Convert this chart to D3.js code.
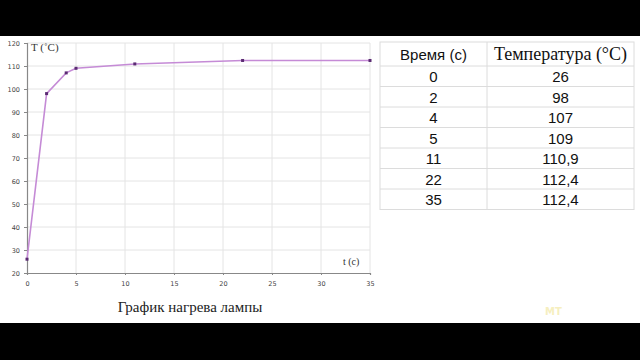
<!DOCTYPE html>
<html>
<head>
<meta charset="utf-8">
<script src="https://cdn.jsdelivr.net/npm/d3@7"></script>
<style>
  body { margin: 0; background: #000; }
  svg { display: block; }
</style>
</head>
<body>
<div id="chart"></div>
<script>
var times = [0, 2, 4, 5, 11, 22, 35]
var temps = [26, 98, 107, 109, 110.9, 112.4, 112.4]
var tempLabels = ["26", "98", "107", "109", "110,9", "112,4", "112,4"]
var xTicks = [0, 5, 10, 15, 20, 25, 30, 35]
var yTicks = [20, 30, 40, 50, 60, 70, 80, 90, 100, 110, 120]
var headers = ["Время (с)", "Температура (°C)"]

var W = 640, H = 360

var svg = d3.select("#chart")
    .append("svg")
      .attr("width", W)
      .attr("height", H)

// black bands top and bottom
svg.append("rect").attr("x", 0).attr("y", 0).attr("width", W).attr("height", H).attr("fill", "#000")
svg.append("rect").attr("x", 0).attr("y", 36).attr("width", W).attr("height", 287).attr("fill", "#fff")

var x = d3.scaleLinear().domain([0, 35]).range([27, 370])
var y = d3.scaleLinear().domain([20, 120]).range([273, 43])

var g = svg.append("g")

// grid
g.selectAll(".vgrid")
    .data(xTicks.slice(1))
    .enter()
    .append("line")
    .attr("x1", function(d) { return x(d) })
    .attr("x2", function(d) { return x(d) })
    .attr("y1", y(120))
    .attr("y2", y(20))
    .attr("stroke", "#e4e4e4")
    .attr("stroke-width", 1)

g.selectAll(".hgrid")
    .data(yTicks.slice(1))
    .enter()
    .append("line")
    .attr("x1", x(0))
    .attr("x2", x(35))
    .attr("y1", function(d) { return y(d) })
    .attr("y2", function(d) { return y(d) })
    .attr("stroke", "#e4e4e4")
    .attr("stroke-width", 1)

// axes
var xAxis = g.append("g")
    .attr("transform", "translate(0," + y(20) + ")")
    .call(d3.axisBottom(x).tickValues(xTicks).tickSize(2).tickPadding(6))
var yAxis = g.append("g")
    .attr("transform", "translate(" + x(0) + ",0)")
    .call(d3.axisLeft(y).tickValues(yTicks).tickSize(3).tickPadding(4))

;[xAxis, yAxis].forEach(function(a) {
    a.select(".domain").attr("stroke", "#888").attr("stroke-width", 1.2)
    a.selectAll(".tick line").attr("stroke", "#888")
    a.selectAll("text")
        .attr("fill", "#444")
        .style("font-family", "'DejaVu Sans', sans-serif")
        .style("font-size", "6.5px")
})

g.append("text")
    .attr("x", 31)
    .attr("y", 51)
    .style("font-family", "'Liberation Serif', serif")
    .style("font-size", "11px")
    .attr("fill", "#333")
    .text("T (˚C)")

g.append("text")
    .attr("x", 343)
    .attr("y", 265)
    .style("font-family", "'Liberation Serif', serif")
    .style("font-size", "10px")
    .attr("fill", "#333")
    .text("t (c)")

// line + markers
var pts = times.map(function(t, i) { return [t, temps[i]] })
var line = d3.line()
    .x(function(d) { return x(d[0]) })
    .y(function(d) { return y(d[1]) })

g.append("path")
    .datum(pts)
    .attr("d", line)
    .attr("fill", "none")
    .attr("stroke", "#c58bd6")
    .attr("stroke-width", 1.6)

g.selectAll(".pt")
    .data(pts)
    .enter()
    .append("rect")
    .attr("x", function(d) { return x(d[0]) - 1.5 })
    .attr("y", function(d) { return y(d[1]) - 1.5 })
    .attr("width", 3)
    .attr("height", 3)
    .attr("fill", "#5b2b73")

svg.append("text")
    .attr("x", 190)
    .attr("y", 312)
    .attr("text-anchor", "middle")
    .style("font-family", "'Liberation Serif', serif")
    .style("font-size", "15px")
    .attr("fill", "#222")
    .text("График нагрева лампы")

// table
var tx = [380, 487, 634]
var rowY = d3.scaleLinear().domain([0, 7]).range([66, 209.5])
var t = svg.append("g")

t.append("rect")
    .attr("x", tx[0]).attr("y", 42)
    .attr("width", tx[2] - tx[0]).attr("height", rowY(7) - 42)
    .attr("fill", "none").attr("stroke", "#dcdcdc")

t.selectAll(".hl")
    .data(d3.range(0, 7))
    .enter()
    .append("line")
    .attr("x1", tx[0]).attr("x2", tx[2])
    .attr("y1", function(d) { return rowY(d) })
    .attr("y2", function(d) { return rowY(d) })
    .attr("stroke", "#dcdcdc")

t.append("line")
    .attr("x1", tx[1]).attr("x2", tx[1])
    .attr("y1", 42).attr("y2", rowY(7))
    .attr("stroke", "#dcdcdc")

t.append("text")
    .attr("x", (tx[0] + tx[1]) / 2)
    .attr("y", 60)
    .attr("text-anchor", "middle")
    .style("font-family", "'Liberation Sans', Arial, sans-serif")
    .style("font-size", "15px")
    .attr("fill", "#111")
    .text(headers[0])

t.append("text")
    .attr("x", (tx[1] + tx[2]) / 2)
    .attr("y", 60)
    .attr("text-anchor", "middle")
    .style("font-family", "'Liberation Serif', serif")
    .style("font-size", "18px")
    .attr("fill", "#111")
    .text(headers[1])

t.selectAll(".tc")
    .data(times)
    .enter()
    .append("text")
    .attr("x", (tx[0] + tx[1]) / 2)
    .attr("y", function(d, i) { return rowY(i) + 16 })
    .attr("text-anchor", "middle")
    .style("font-family", "'Liberation Sans', Arial, sans-serif")
    .style("font-size", "15px")
    .attr("fill", "#111")
    .text(function(d) { return d })

t.selectAll(".tv")
    .data(tempLabels)
    .enter()
    .append("text")
    .attr("x", (tx[1] + tx[2]) / 2)
    .attr("y", function(d, i) { return rowY(i) + 16 })
    .attr("text-anchor", "middle")
    .style("font-family", "'Liberation Sans', Arial, sans-serif")
    .style("font-size", "15px")
    .attr("fill", "#111")
    .text(function(d) { return d })

// faint watermark
svg.append("text")
    .attr("x", 545).attr("y", 315)
    .style("font-family", "'DejaVu Sans', sans-serif")
    .style("font-size", "10px")
    .style("font-weight", "bold")
    .attr("fill", "#f6efc0")
    .text("MT")
</script>
</body>
</html>
